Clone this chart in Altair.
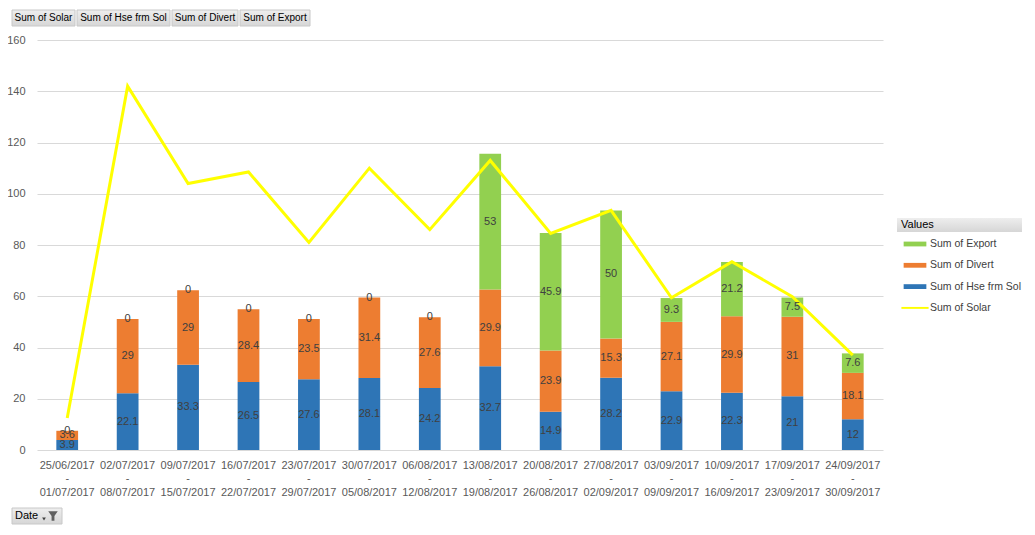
import altair as alt
import pandas as pd

weeks = [
    "25/06/2017 - 01/07/2017", "02/07/2017 - 08/07/2017", "09/07/2017 - 15/07/2017",
    "16/07/2017 - 22/07/2017", "23/07/2017 - 29/07/2017", "30/07/2017 - 05/08/2017",
    "06/08/2017 - 12/08/2017", "13/08/2017 - 19/08/2017", "20/08/2017 - 26/08/2017",
    "27/08/2017 - 02/09/2017", "03/09/2017 - 09/09/2017", "10/09/2017 - 16/09/2017",
    "17/09/2017 - 23/09/2017", "24/09/2017 - 30/09/2017",
]
hse = [3.9, 22.1, 33.3, 26.5, 27.6, 28.1, 24.2, 32.7, 14.9, 28.2, 22.9, 22.3, 21, 12]
divert = [3.6, 29, 29, 28.4, 23.5, 31.4, 27.6, 29.9, 23.9, 15.3, 27.1, 29.9, 31, 18.1]
export = [0, 0, 0, 0, 0, 0, 0, 53, 45.9, 50, 9.3, 21.2, 7.5, 7.6]
solar = [12.5, 142, 104, 108.5, 81, 110, 86, 113, 84.5, 93.5, 59.4, 73.5, 59.8, 37]

series_names = ["Sum of Export", "Sum of Divert", "Sum of Hse frm Sol", "Sum of Solar"]
series_colors = ["#92D050", "#ED7D31", "#2E75B6", "#FFFF00"]
button_labels = ["Sum of Solar", "Sum of Hse frm Sol", "Sum of Divert", "Sum of Export"]
y_ticks = [0, 20, 40, 60, 80, 100, 120, 140, 160]

FONT = "Liberation Sans"

rows = []
for i, w in enumerate(weeks):
    for order, (name, vals) in enumerate([("Sum of Hse frm Sol", hse),
                                          ("Sum of Divert", divert),
                                          ("Sum of Export", export)]):
        rows.append({"Week": w, "Series": name, "Value": vals[i], "Order": order,
                     "Label": f"{vals[i]:g}"})
bars_df = pd.DataFrame(rows)
solar_df = pd.DataFrame({"Week": weeks, "Series": "Sum of Solar", "Value": solar})

x_enc = alt.X("Week:N", sort=weeks,
              scale=alt.Scale(paddingInner=0.64, paddingOuter=0.32),
              axis=alt.Axis(title=None, labelAngle=0, labelExpr="split(datum.label, ' ')",
                            labelFont=FONT, labelFontSize=11, labelColor="#595959",
                            ticks=False, domain=False, labelPadding=9,
                            labelLineHeight=13.5, grid=False))
y_scale = alt.Scale(domain=[0, 160], nice=False)
y_axis = alt.Axis(title=None, values=y_ticks, domain=False, ticks=False, labelPadding=12,
                  labelFont=FONT, labelFontSize=11, labelColor="#595959",
                  gridColor="#D9D9D9", gridWidth=1)
color_scale = alt.Scale(domain=series_names, range=series_colors)

rect_path = "M-1.42,-0.3H1.42V0.3H-1.42Z"
line_path = "M-1.7,-0.12H1.7V0.12H-1.7Z"
leg = alt.Legend(orient="none", legendX=870, legendY=196, title=None,
                 symbolSize=256, symbolStrokeWidth=0, symbolOpacity=1,
                 labelOffset=7, rowPadding=7.3,
                 labelFont=FONT, labelFontSize=10.5, labelColor="#404040")

stacked = alt.Chart(bars_df).transform_stack(
    stack="Value", groupby=["Week"], as_=["v0", "v1"],
    sort=[alt.SortField("Order", order="ascending")]
).transform_calculate(mid="(datum.v0 + datum.v1) / 2")

bars = stacked.mark_bar().encode(
    x=x_enc,
    y=alt.Y("v0:Q", scale=y_scale, axis=y_axis),
    y2="v1:Q",
    color=alt.Color("Series:N", scale=color_scale, legend=leg),
)
labels = stacked.mark_text(font=FONT, fontSize=11, color="#404040").encode(
    x=alt.X("Week:N", sort=weeks),
    y=alt.Y("mid:Q"),
    text="Label:N",
)
line = alt.Chart(solar_df).mark_line(strokeWidth=3).encode(
    x=alt.X("Week:N", sort=weeks),
    y=alt.Y("Value:Q"),
    color=alt.Color("Series:N", scale=color_scale, legend=leg),
)

legend_layer = alt.Chart(pd.DataFrame({"Series": series_names, "Week": weeks[:4],
                                       "Value": [0, 0, 0, 0]})).transform_filter(
    "false").mark_point(filled=True, size=256, opacity=1).encode(
    x=alt.X("Week:N", sort=weeks),
    y=alt.Y("Value:Q"),
    color=alt.Color("Series:N", scale=color_scale, legend=leg),
    shape=alt.Shape("Series:N", scale=alt.Scale(domain=series_names,
                                                range=[rect_path, rect_path, rect_path, line_path]),
                    legend=leg),
)

grad = alt.Gradient(gradient="linear",
                    stops=[alt.GradientStop(color="#EEEEEE", offset=0),
                           alt.GradientStop(color="#D6D6D6", offset=1)],
                    x1=0, x2=0, y1=0, y2=1)

one = pd.DataFrame({"k": [0]})
deco = []
button_x = [(-25, 38), (40, 133), (135, 201), (203, 273)]
for lab, (x0, x1) in zip(button_labels, button_x):
    deco.append(alt.Chart(one).mark_rect(fill=grad, stroke="#C8C8C8", strokeWidth=1).encode(
        x=alt.value(x0), x2=alt.value(x1), y=alt.value(-30), y2=alt.value(-14)))
    deco.append(alt.Chart(pd.DataFrame({"t": [lab]})).mark_text(
        font=FONT, fontSize=10, color="#000000", align="center", baseline="middle").encode(
        x=alt.value((x0 + x1) / 2), y=alt.value(-22), text="t:N"))

# Date field button
deco.append(alt.Chart(one).mark_rect(fill=grad, stroke="#C8C8C8", strokeWidth=1).encode(
    x=alt.value(-25), x2=alt.value(25), y=alt.value(468), y2=alt.value(484)))
deco.append(alt.Chart(pd.DataFrame({"t": ["Date"]})).mark_text(
    font=FONT, fontSize=11, color="#000000", align="left", baseline="middle").encode(
    x=alt.value(-22), y=alt.value(476), text="t:N"))
deco.append(alt.Chart(one).mark_point(filled=True, shape="triangle-down", size=14,
                                      color="#404040", opacity=1).encode(
    x=alt.value(7), y=alt.value(479)))
funnel = "M-1,-1L1,-1L0.3,0L0.3,1L-0.3,1L-0.3,0Z"
deco.append(alt.Chart(one).mark_point(filled=True, shape=funnel, size=90,
                                      color="#606060", opacity=1).encode(
    x=alt.value(16), y=alt.value(476)))

# Legend header
deco.append(alt.Chart(one).mark_rect(fill=grad).encode(
    x=alt.value(860), x2=alt.value(985), y=alt.value(178), y2=alt.value(192)))
deco.append(alt.Chart(pd.DataFrame({"t": ["Values"]})).mark_text(
    font=FONT, fontSize=11, color="#000000", align="left", baseline="middle").encode(
    x=alt.value(864), y=alt.value(185), text="t:N"))

chart = alt.layer(bars, line, labels, legend_layer, *deco).properties(
    width=846, height=410,
    padding={"left": 29, "top": 32, "right": 143, "bottom": 76},
    autosize=alt.AutoSizeParams(type="none"),
    background="white",
).configure_view(stroke=None)

chart.save("out.html", embed_options={"renderer": "svg", "actions": False})
